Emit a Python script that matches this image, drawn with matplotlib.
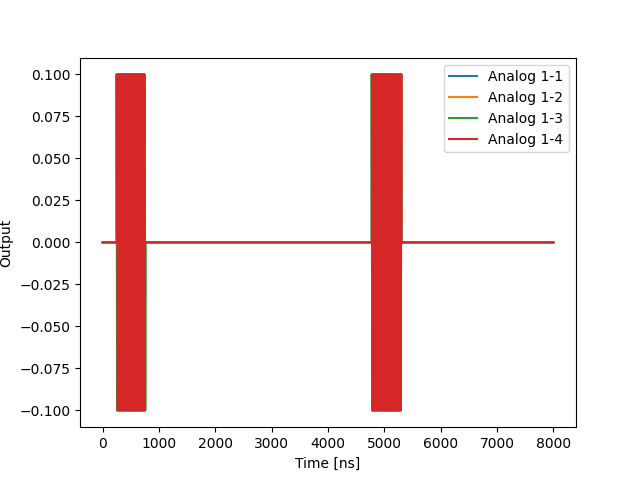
import numpy as np
import matplotlib
matplotlib.use('Agg')
from matplotlib import pyplot as plt

# channel names and pulse windows (ns)
channels = ['Analog 1-1', 'Analog 1-2', 'Analog 1-3', 'Analog 1-4']
starts = [[260, 4780], [260, 4780], [248, 4775], [260, 4780]]
stops = [[750, 5300], [750, 5300], [762, 5300], [750, 5300]]
amplitude = [0.1, 0.1, 0.1, 0.1]
period_ns = 20.0
t_end = 8000

t = np.arange(0, t_end + 1, 1.0)

fig, ax = plt.subplots(figsize=(6.4, 4.8), dpi=100)
for name, st, sp, amp in zip(channels, starts, stops, amplitude):
	y = np.zeros_like(t)
	for a, b in zip(st, sp):
		m = (t >= a) & (t <= b)
		y[m] = amp * np.cos(2 * np.pi * (t[m] - a) / period_ns)
	ax.plot(t, y, label=name)

ax.set_xlabel('Time [ns]')
ax.set_ylabel('Output')
ax.legend(loc='upper right')
plt.savefig('out.png')
